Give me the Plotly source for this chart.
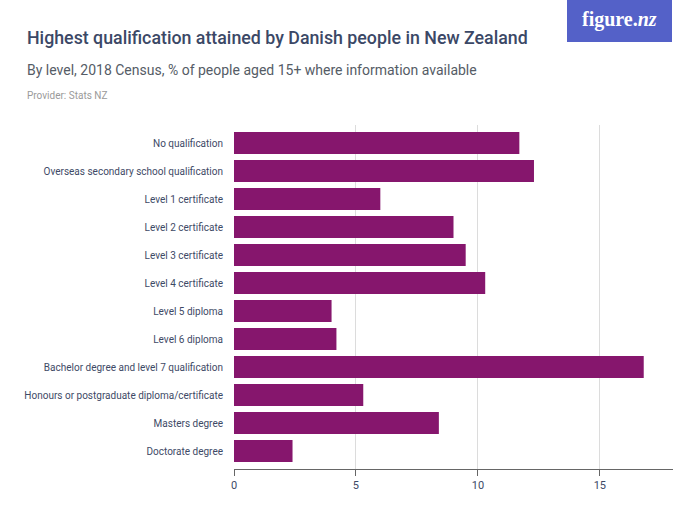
import plotly.graph_objects as go

categories = [
    "No qualification",
    "Overseas secondary school qualification",
    "Level 1 certificate",
    "Level 2 certificate",
    "Level 3 certificate",
    "Level 4 certificate",
    "Level 5 diploma",
    "Level 6 diploma",
    "Bachelor degree and level 7 qualification",
    "Honours or postgraduate diploma/certificate",
    "Masters degree",
    "Doctorate degree",
]
values = [11.7, 12.3, 6.0, 9.0, 9.5, 10.3, 4.0, 4.2, 16.8, 5.3, 8.4, 2.4]
x_ticks = [0, 5, 10, 15]

FONT = "Roboto, Arial, sans-serif"
TEXT = "#3e4a66"

W, H = 700, 525
L, R, T, B = 234, 27, 125, 56
pw, ph = W - L - R, H - T - B


def px(x):
    return (x - L) / pw


def py(y):
    return (H - B - y) / ph


fig = go.Figure(go.Bar(
    x=values, y=categories, orientation="h",
    marker=dict(color="#86166d", line=dict(width=0)),
    hoverinfo="x+y",
))

fig.update_layout(
    width=W, height=H,
    margin=dict(l=L, r=R, t=T, b=B, autoexpand=False),
    paper_bgcolor="white", plot_bgcolor="white",
    bargap=0.22,
    showlegend=False,
    font=dict(family=FONT, color=TEXT, size=12),
    xaxis=dict(
        range=[0, 18], tickvals=x_ticks, ticktext=[str(t) for t in x_ticks],
        showgrid=True, gridcolor="#dcdcdc", gridwidth=1,
        zeroline=False, showline=True, linecolor="#666666", linewidth=1,
        ticks="outside", ticklen=6, tickcolor="#666666",
        tickfont=dict(size=11, color=TEXT, family=FONT),
        automargin=False,
    ),
    yaxis=dict(
        range=[11.643, -0.643],
        showgrid=False, zeroline=False, showline=False,
        ticks="", ticklabelstandoff=10,
        tickfont=dict(size=10, color=TEXT, family=FONT),
        automargin=False,
    ),
)

fig.add_shape(type="rect", xref="paper", yref="paper",
              x0=px(567), x1=px(672), y0=py(42), y1=py(0),
              fillcolor="#5461c8", line=dict(width=0), layer="below")

anns = [
    ("Highest qualification attained by Danish people in New Zealand", 25, 37, 17.8, "#3b4866", FONT, "left", 500),
    ("By level, 2018 Census, % of people aged 15+ where information available", 25, 70, 14, "#555c66", FONT, "left", 400),
    ("Provider: Stats NZ", 25, 95, 10, "#9a9a9a", FONT, "left", 400),
    ("<b>figure.<i>nz</i></b>", 619, 20, 20, "white", "Liberation Serif, DejaVu Serif, serif", "center", 400),
]
for text, x, y, size, color, fam, anchor, weight in anns:
    fig.add_annotation(text=text, x=px(x), y=py(y), xref="paper", yref="paper",
                       showarrow=False, xanchor=anchor, yanchor="middle",
                       font=dict(size=size, color=color, family=fam, weight=weight))

fig.write_html("out.html")
